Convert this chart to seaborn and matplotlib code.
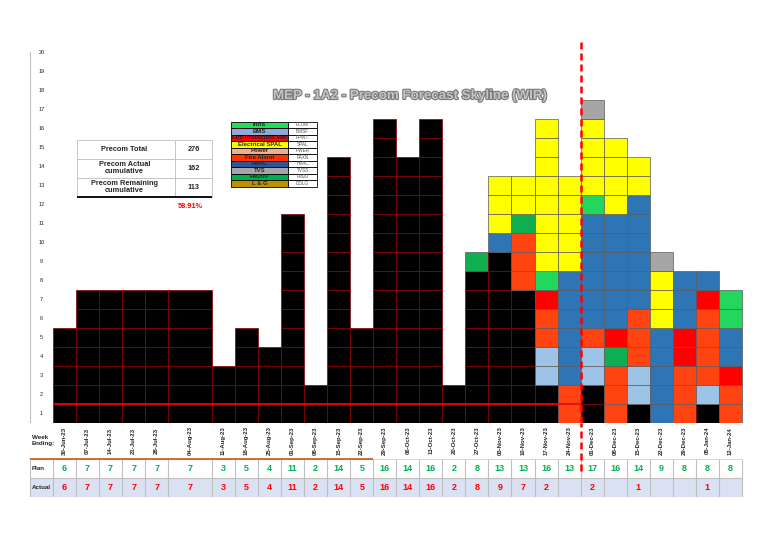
"""
MEP 1A2 precom forecast skyline (WIR) - weekly stacked cells plus plan / actual table
"""

import numpy as np
import matplotlib
matplotlib.use("Agg")
import matplotlib.pyplot as plt
import matplotlib.patheffects as pe
import seaborn as sns

# ---- data ----
weeks = ["30-Jun-23", "07-Jul-23", "14-Jul-23", "21-Jul-23", "28-Jul-23", "04-Aug-23",
         "11-Aug-23", "18-Aug-23", "25-Aug-23", "01-Sep-23", "08-Sep-23", "15-Sep-23",
         "22-Sep-23", "29-Sep-23", "06-Oct-23", "13-Oct-23", "20-Oct-23", "27-Oct-23",
         "03-Nov-23", "10-Nov-23", "17-Nov-23", "24-Nov-23", "01-Dec-23", "08-Dec-23",
         "15-Dec-23", "22-Dec-23", "29-Dec-23", "05-Jan-24", "12-Jan-24"]
plan = [6, 7, 7, 7, 7, 7, 3, 5, 4, 11, 2, 14, 5, 16, 14, 16, 2, 8,
        13, 13, 16, 13, 17, 16, 14, 9, 8, 8, 8]
actual = [6, 7, 7, 7, 7, 7, 3, 5, 4, 11, 2, 14, 5, 16, 14, 16, 2, 8,
          9, 7, 2, None, 2, None, 1, None, None, 1, None]

# skyline cells per week, bottom -> top, one letter per discipline
stacks = ["KKKKK", "KKKKKKK", "KKKKKKK", "KKKKKKK", "KKKKKKK", "KKKKKKK",
          "KKK", "KKKKK", "KKKK", "K" * 11, "KK", "K" * 14, "KKKKK",
          "K" * 16, "K" * 14, "K" * 16, "KK",
          "KKKKKKKKD",
          "KKKKKKKKKBYYY",
          "KKKKKKKOOODYY",
          "KKLLOORG" + "Y" * 8,
          "OOBBBBBBYYYYY",
          "KKLLOBBBBBBGYYYYA",
          "OOODRBBBBBBYYYY",
          "KLLOOOBBBBBBYY",
          "BBBBBYYYA",
          "OOORRBBB",
          "KLOOOORB",
          "OORBBGG"]

legend_names = ["Infra", "BMS", "Fire Protection Wet", "Electrical SPAL", "Power",
                "Fire Alarm", "HVAC", "TVS", "FM200", "L & G"]
legend_codes = ["PLUM", "BMSF", "FPWT", "SPAL", "PWER", "FAXN", "HVAC", "TVSS", "FM20", "DDLG"]

summary_labels = ["Precom Total", "Precom Actual\ncumulative", "Precom Remaining\ncumulative"]
summary_values = ["276", "162", "113"]
summary_pct = "58.91%"

# ---- styles ----
cell_colors = {"K": "#000000", "Y": "#ffff00", "B": "#2e75b6", "L": "#9dc3e6",
               "O": "#ff4311", "R": "#ff0000", "G": "#22d65e", "D": "#0fae50",
               "A": "#a6a6a6"}
legend_colors = ["#22dd55", "#8eaadb", "#ff0000", "#ffff00", "#f4b084",
                 "#ff3300", "#2f5597", "#a6a6a6", "#00b050", "#bf8f00"]

sns.set_style("white")
plt.rcParams["font.family"] = ["Liberation Sans", "DejaVu Sans"]

W, H = 768, 543
UNIT_X = 23.04          # px per week column
UNIT_Y = 19.0           # px per skyline row
X0 = 53                 # px of first column
CHART_TOP, CHART_BOT = 30, 422.8
TAB_BOT = 496.7

widths = np.ones(len(weeks))
widths[weeks.index("04-Aug-23")] = 1.9
lefts = np.concatenate([[0], np.cumsum(widths)[:-1]])
centers = lefts + widths / 2
right_end = lefts[-1] + widths[-1]
xlim = (-X0 / UNIT_X, (W - X0) / UNIT_X)

fig = plt.figure(figsize=(W / 100, H / 100), dpi=100)
fig.patch.set_facecolor("white")

ax = fig.add_axes([0, (H - CHART_BOT) / H, 1, (CHART_BOT - CHART_TOP) / H])
ax.set_xlim(*xlim)
ax.set_ylim(0.5, 0.5 + (CHART_BOT - CHART_TOP) / UNIT_Y)
ax.axis("off")

# skyline cells, one row of bars at a time
for r in range(max(len(s) for s in stacks)):
    idx = [i for i, s in enumerate(stacks) if len(s) > r]
    codes = [stacks[i][r] for i in idx]
    ax.bar(lefts[idx], 1, width=widths[idx], bottom=r + 0.5, align="edge",
           color=[cell_colors[c] for c in codes],
           edgecolor=["#8b0000" if c == "K" else "#5a5a5a" for c in codes],
           linewidth=0.5)

# row numbers and left rule
for v in range(1, 21):
    ax.text(-0.5, v, str(v), fontsize=4, ha="center", va="center", color="#222222")
ax.plot([-1, -1], [0.5, 20.0], color="#bfbfbf", lw=0.8)

# red rule over first row and today line
cut = lefts[weeks.index("01-Dec-23")]
ax.hlines(1.5, 0, cut, color="#ff0000", lw=1.2)
ax.vlines(cut, 0.5, 20.65, color="#ff0000", lw=1.8, linestyle=(0, (2.8, 1.6)))

ax.text(15.5, 17.7, "MEP - 1A2 - Precom Forecast Skyline (WIR)", fontsize=9.6,
        weight="bold", color="#c4c4c4", ha="center", va="center",
        path_effects=[pe.withStroke(linewidth=1.6, foreground="#7a7a7a")])

# discipline key
key_top, key_h = 16.35, 0.342
key_y = key_top - key_h * (np.arange(len(legend_names)) + 0.5)
ax.barh(key_y, 2.5, left=7.71, height=key_h, color=legend_colors,
        edgecolor="black", linewidth=0.6)
ax.barh(key_y, 1.24, left=10.21, height=key_h, color="white",
        edgecolor="black", linewidth=0.6)
for y, name, code in zip(key_y, legend_names, legend_codes):
    ax.text(8.96, y, name, fontsize=4.3, weight="bold", ha="center", va="center")
    ax.text(10.83, y, code, fontsize=3.4, ha="center", va="center", color="#555555")

# summary box
sum_y = 15.4 - (np.arange(3) + 0.5)
ax.barh(sum_y, 4.27, left=1.03, height=1, color="white", edgecolor="#bfbfbf", linewidth=0.6)
ax.barh(sum_y, 1.59, left=5.3, height=1, color="white", edgecolor="#bfbfbf", linewidth=0.6)
ax.hlines(12.4, 1.03, 6.89, color="black", lw=1.3)
for y, lab, val in zip(sum_y, summary_labels, summary_values):
    ax.text(3.1, y, lab, fontsize=5.3, weight="bold", ha="center", va="center",
            linespacing=1.1)
    ax.text(6.1, y, val, fontsize=5.3, weight="bold", ha="center", va="center")
ax.text(5.95, 11.86, summary_pct, fontsize=5.3, weight="bold", color="#ff0000",
        ha="center", va="center")

# ---- plan / actual table ----
tax = fig.add_axes([0, (H - TAB_BOT) / H, 1, (TAB_BOT - CHART_BOT) / H])
tax.set_xlim(*xlim)
tax.set_ylim(0, (TAB_BOT - CHART_BOT) / UNIT_Y)
tax.axis("off")

tax.fill_between([-1, right_end], 0, 1, color="#d9e1f2", lw=0)
tax.vlines(np.r_[-1, lefts, right_end], 0, 2, color="#bfbfbf", lw=0.8)
tax.hlines([0, 1], -1, right_end, color="#bfbfbf", lw=0.8)
tax.hlines(2, -1, right_end, color="#d0d0d0", lw=0.6)
tax.hlines(2, -1, lefts[weeks.index("29-Sep-23")], color="#c55a11", lw=1.2)
tax.vlines(cut, 1.35, 3.9, color="#ff0000", lw=1.8, linestyle=(0, (2.8, 1.6)))

tax.text(-0.92, 2.95, "Week\nEnding:", fontsize=4.5, weight="bold", ha="left", va="center")
tax.text(-0.92, 1.5, "Plan", fontsize=4.5, weight="bold", ha="left", va="center")
tax.text(-0.92, 0.5, "Actual", fontsize=4.5, weight="bold", ha="left", va="center")

for xc, wk, p, a in zip(centers, weeks, plan, actual):
    tax.text(xc, 2.95, wk, fontsize=4.3, weight="bold", rotation=90,
             ha="center", va="center")
    tax.text(xc, 1.5, str(p), fontsize=6.5, weight="bold", color="#00b050",
             ha="center", va="center")
    if a is not None:
        tax.text(xc, 0.5, str(a), fontsize=6.5, weight="bold", color="#ff0000",
                 ha="center", va="center")

fig.savefig("out.png", dpi=100)
